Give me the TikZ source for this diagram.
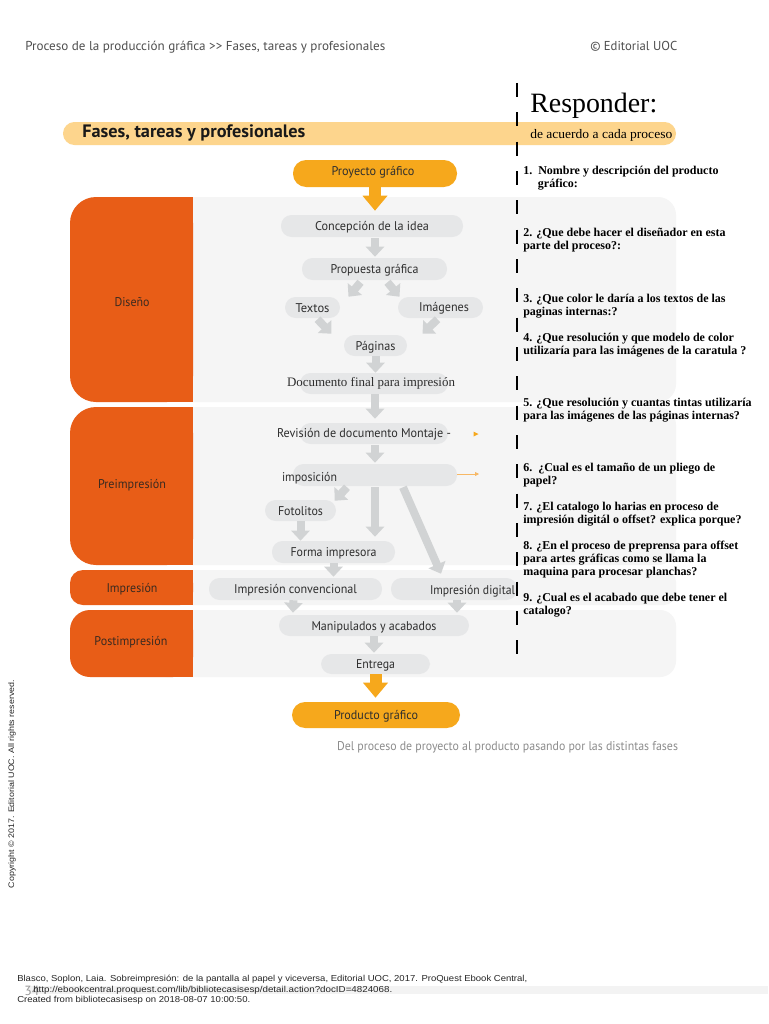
\documentclass[tikz,border=0pt]{standalone}
\usepackage{fontspec}
\setmainfont{PT Sans}
\newfontfamily\qfont{Liberation Serif}
\newfontfamily\afont{Liberation Sans}
\usetikzlibrary{arrows.meta,calc}
\newdimen\pxu \pxu=0.75pt
\newcommand\fw[2]{\resizebox{#1\pxu}{\height}{#2}}
\definecolor{phaseor}{HTML}{E85D17}
\definecolor{pillor}{HTML}{F6A81C}
\definecolor{bandor}{HTML}{FDD58D}
\definecolor{panelg}{HTML}{F5F5F5}
\definecolor{pillg}{HTML}{E6E7E8}
\definecolor{arrg}{HTML}{D1D3D4}
\definecolor{txtd}{HTML}{2E2E2E}
\definecolor{phtxt}{HTML}{3A2A20}
\definecolor{hdrg}{HTML}{4F4F4F}
\definecolor{capg}{HTML}{8C8C8C}
\definecolor{markor}{HTML}{F7B865}
\definecolor{bandg}{HTML}{F3F3F3}
\begin{document}
\begin{tikzpicture}[x=0.75pt,y=-0.75pt,
 lblfont/.style={font=\fontsize{9.5}{11}\selectfont, text height=0.7em, text depth=0pt},
 pill/.style={fill=pillg, rounded corners=7.9pt, inner sep=0pt, text=txtd, lblfont},
 bigpill/.style={fill=pillor, rounded corners=9.8pt, inner sep=0pt, text=txtd, lblfont},
 lbl/.style={inner sep=0pt, text=txtd, lblfont},
 phlbl/.style={inner sep=0pt, text=phtxt, lblfont},
 garr/.style={draw=arrg, line width=6pt, -{Triangle[width=13.5pt,length=7.5pt]}},
 oarr/.style={draw=pillor, line width=9pt, -{Triangle[width=18pt,length=11.25pt]}},
 quest/.style={inner sep=0pt, anchor=base west, align=left, text=black, font=\qfont\bfseries\fontsize{9}{9.75}\selectfont},
 foot/.style={inner sep=0pt, anchor=base west, text=black!85, font=\afont\fontsize{6.5}{7.5}\selectfont},
]
\useasboundingbox (0,0) rectangle (768,1024);
\fill[white] (0,0) rectangle (768,1024);

% header
\node[inner sep=0pt, anchor=west, text=hdrg, font=\fontsize{9.7}{11}\selectfont, text height=0.7em, text depth=0pt] (hdr) at (25,46) {\fw{360}{Proceso de la producción gráfica >{}> Fases, tareas y profesionales}};
\node[inner sep=0pt, anchor=west, text=hdrg, font=\fontsize{9.7}{11}\selectfont, text height=0.7em, text depth=0pt] (uoc) at (590,46) {\fw{87}{© Editorial UOC}};

% title band
\fill[bandor, rounded corners=8.6pt] (63,122) rectangle (676,145);
\node[inner sep=0pt, anchor=west, text=black!90, font=\bfseries\fontsize{13.5}{15}\selectfont, text height=0.7em, text depth=0pt] (title) at (82,133) {\fw{223}{Fases, tareas y profesionales}};
\node[inner sep=0pt, anchor=west, font=\qfont\fontsize{9.8}{11}\selectfont, text height=0.5em, text depth=0pt] (acuerdo) at (530,135) {\fw{142}{de acuerdo a cada proceso}};
\node[inner sep=0pt, anchor=west, font=\qfont\fontsize{21}{24}\selectfont, text height=0.68em, text depth=0pt] (resp) at (530,108) {\fw{127}{Responder:}};

% panels
\fill[panelg, rounded corners=13.5pt] (150,197) rectangle (676,402);
\fill[panelg, rounded corners=13.5pt] (150,407) rectangle (676,565);
\fill[panelg, rounded corners=9pt] (150,570) rectangle (676,605);
\fill[panelg, rounded corners=12pt] (150,610) rectangle (676,677);

% phase boxes
\fill[phaseor, rounded corners=19.5pt] (70,197) rectangle (193,402);
\fill[phaseor] (150,197) rectangle (193,402);
\fill[phaseor, rounded corners=19.5pt] (70,407) rectangle (193,565);
\fill[phaseor] (150,407) rectangle (193,565);
\fill[phaseor, rounded corners=9.75pt] (70,570) rectangle (193,605);
\fill[phaseor] (150,570) rectangle (193,605);
\fill[phaseor, rounded corners=15pt] (70,610) rectangle (193,677);
\fill[phaseor] (150,610) rectangle (193,677);
\node[phlbl] (disen) at (132,302) {\fw{35}{Diseño}};
\node[phlbl] (preim) at (132,484) {\fw{68}{Preimpresión}};
\node[phlbl] (impre) at (132,588) {\fw{51}{Impresión}};
\node[phlbl] (posti) at (131,641) {\fw{73}{Postimpresión}};

% flow nodes
\node[bigpill, minimum width=164\pxu, minimum height=27\pxu] (proy) at (375,173.5) {};
\node[lbl] (proyt) at (373,170.5) {\fw{83}{Proyecto gráfico}};
\node[pill, minimum width=182\pxu, minimum height=22\pxu] (conc) at (372,226) {\fw{114}{Concepción de la idea}};
\node[pill, minimum width=145\pxu, minimum height=22\pxu] (prop) at (374.5,269) {\fw{88}{Propuesta gráfica}};
\node[pill, minimum width=55\pxu, minimum height=21\pxu] (textos) at (312.5,307.5) {\fw{34}{Textos}};
\node[pill, minimum width=85\pxu, minimum height=21\pxu] (imag) at (440.5,307.5) {};
\node[lbl] (imagt) at (444,307) {\fw{50}{Imágenes}};
\node[pill, minimum width=63\pxu, minimum height=21\pxu] (pag) at (375.5,345.5) {\fw{40}{Páginas}};
\node[pill, minimum width=148\pxu, minimum height=21\pxu] (doc) at (374,383.5) {};
\node[inner sep=0pt, text=txtd, font=\qfont\fontsize{9.7}{11}\selectfont, text height=0.68em, text depth=0pt] (doct) at (371,382) {\fw{168}{Documento final para impresión}};
\node[pill, minimum width=148\pxu, minimum height=21\pxu] (rev) at (374,433.5) {};
\node[lbl] (revt) at (364,433) {\fw{174}{Revisión de documento Montaje -}};
\node[pill, minimum width=164\pxu, minimum height=22\pxu] (impos) at (375,475) {};
\node[lbl] (impost) at (309.5,477) {\fw{55}{imposición}};
\node[pill, minimum width=71\pxu, minimum height=21\pxu] (foto) at (300.5,510.5) {\fw{45}{Fotolitos}};
\node[pill, minimum width=123\pxu, minimum height=22\pxu] (forma) at (333.5,552) {\fw{86}{Forma impresora}};
\node[pill, minimum width=173\pxu, minimum height=22\pxu] (impconv) at (295.5,589) {\fw{123}{Impresión convencional}};
\node[pill, minimum width=126\pxu, minimum height=22\pxu] (impdig) at (454,589) {};
\node[lbl] (impdigt) at (472.5,590) {\fw{85}{Impresión digital}};
\node[pill, minimum width=190\pxu, minimum height=21\pxu] (manip) at (374,625.5) {\fw{125}{Manipulados y acabados}};
\node[pill, minimum width=109\pxu, minimum height=20\pxu] (entrega) at (375.5,664) {\fw{39}{Entrega}};
\node[bigpill, minimum width=168\pxu, minimum height=26\pxu] (prod) at (376,715) {\fw{84}{Producto gráfico}};
\node[inner sep=0pt, text=capg, lblfont] (cap) at (507.5,746) {\fw{341}{Del proceso de proyecto al producto pasando por las distintas fases}};

% orange arrows
\draw[oarr] (proy.south) -- ($(proy.south |- conc.north)+(0,-4)$);
\draw[oarr] (entrega.south) -- ($(entrega.south |- prod.north)+(0,-4)$);

% gray arrows
\draw[garr] ($(conc.south)+(3,1)$) -- ($(prop.north)+(0.5,-1)$);
\draw[garr] ($(prop.south)+(-14,2)$) -- ($(textos.north)+(36,0)$);
\draw[garr] ($(prop.south)+(13,2)$) -- ($(imag.north)+(-41,0)$);
\draw[garr] ($(textos.south)+(5,1)$) -- ($(pag.north)+(-44,-1)$);
\draw[garr] ($(imag.south)+(-3,1)$) -- ($(pag.north)+(47,-1)$);
\draw[garr] (pag.south) -- (pag.south |- doc.north);
\draw[garr] ($(doc.south)+(1,0)$) -- ($(doc.south |- rev.north)+(1,-4)$);
\draw[garr] ($(rev.south)+(1,1)$) -- ($(rev.south |- impos.north)+(1,-1)$);
\draw[garr] ($(impos.south)+(-28,1)$) -- ($(foto.north)+(34,1)$);
\draw[garr] ($(impos.south)+(0,1)$) -- ($(forma.north)+(41.5,-4)$);
\draw[garr] ($(impos.south)+(28,1)$) -- ($(impdig.north)+(-13,-4)$);
\draw[garr] (foto.south) -- ($(forma.north)+(-33,0)$);
\draw[garr] (forma.south) -- ($(impconv.north)+(38,-1)$);
\draw[garr] ($(impconv.south)+(-2,0)$) -- ($(manip.north)+(-81,-2)$);
\draw[garr] ($(impdig.south)+(3,0)$) -- ($(manip.north)+(83,-2)$);
\draw[garr] (manip.south) -- ($(manip.south |- entrega.north)+(0,-1)$);

% small orange marks
\coordinate (revmark) at (476,434);
\fill[pillor] ($(revmark)+(-2.5,-2.5)$) -- ($(revmark)+(2.5,0)$) -- ($(revmark)+(-2.5,2.5)$) -- cycle;
\coordinate (imposmark) at (479,474);
\draw[markor, line width=0.6pt, -{Triangle[width=3pt,length=3pt]}] (impos.east |- imposmark) -- (imposmark);

% questions (base anchor = baseline of last line)
\node[quest] (q1) at (523,187) {1.\ \ Nombre y descripción del producto\\\hspace*{11pt}gráfico:};
\node[quest] (q2) at (523,249) {2. ¿Que debe hacer el diseñador en esta\\parte del proceso?:};
\node[quest] (q3) at (523,315) {3. ¿Que color le daría a los textos de las\\paginas internas:?};
\node[quest] (q4) at (523,354) {4. ¿Que resolución y que modelo de color\\utilizaría para las imágenes de la caratula ?};
\node[quest] (q5) at (523,419) {5. ¿Que resolución y cuantas tintas utilizaría\\para las imágenes de las páginas internas?};
\node[quest] (q6) at (523,484) {6.\ \ ¿Cual es el tamaño de un pliego de\\papel?};
\node[quest] (q7) at (523,523) {7. ¿El catalogo lo harias en proceso de\\impresión digitál o offset? explica porque?};
\node[quest] (q8) at (523,575) {8. ¿En el proceso de preprensa para offset\\para artes gráficas como se llama la\\maquina para procesar planchas?};
\node[quest] (q9) at (523,614) {9. ¿Cual es el acabado que debe tener el\\catalogo?};

% dashed divider
\coordinate (dtop) at (517,83);
\coordinate (dbot) at (517,655);
\draw[black, line width=1.65pt, dash pattern=on 10.5pt off 11.5pt] (dtop) -- (dbot);

% copyright vertical
\node[inner sep=0pt, rotate=90, text=black!85, font=\afont\fontsize{6}{7}\selectfont] (copy) at (12,784) {\fw{208}{Copyright © 2017. Editorial UOC. All rights reserved.}};

% footer
\fill[bandg] (29,986) rectangle (768,994);
\node[inner sep=0pt, anchor=base west, text=black!40, font=\fontsize{10}{11}\selectfont] (pnum) at (24,995) {\fw{15}{34}};
\node[foot] (f1) at (17,981) {\fw{510}{Blasco, Soplon, Laia. Sobreimpresión: de la pantalla al papel y viceversa, Editorial UOC, 2017. ProQuest Ebook Central,}};
\node[foot] (f2) at (33,992) {\fw{359}{http://ebookcentral.proquest.com/lib/bibliotecasisesp/detail.action?docID=4824068.}};
\node[foot] (f3) at (17,1002) {\fw{233}{Created from bibliotecasisesp on 2018-08-07 10:00:50.}};
\end{tikzpicture}
\end{document}
